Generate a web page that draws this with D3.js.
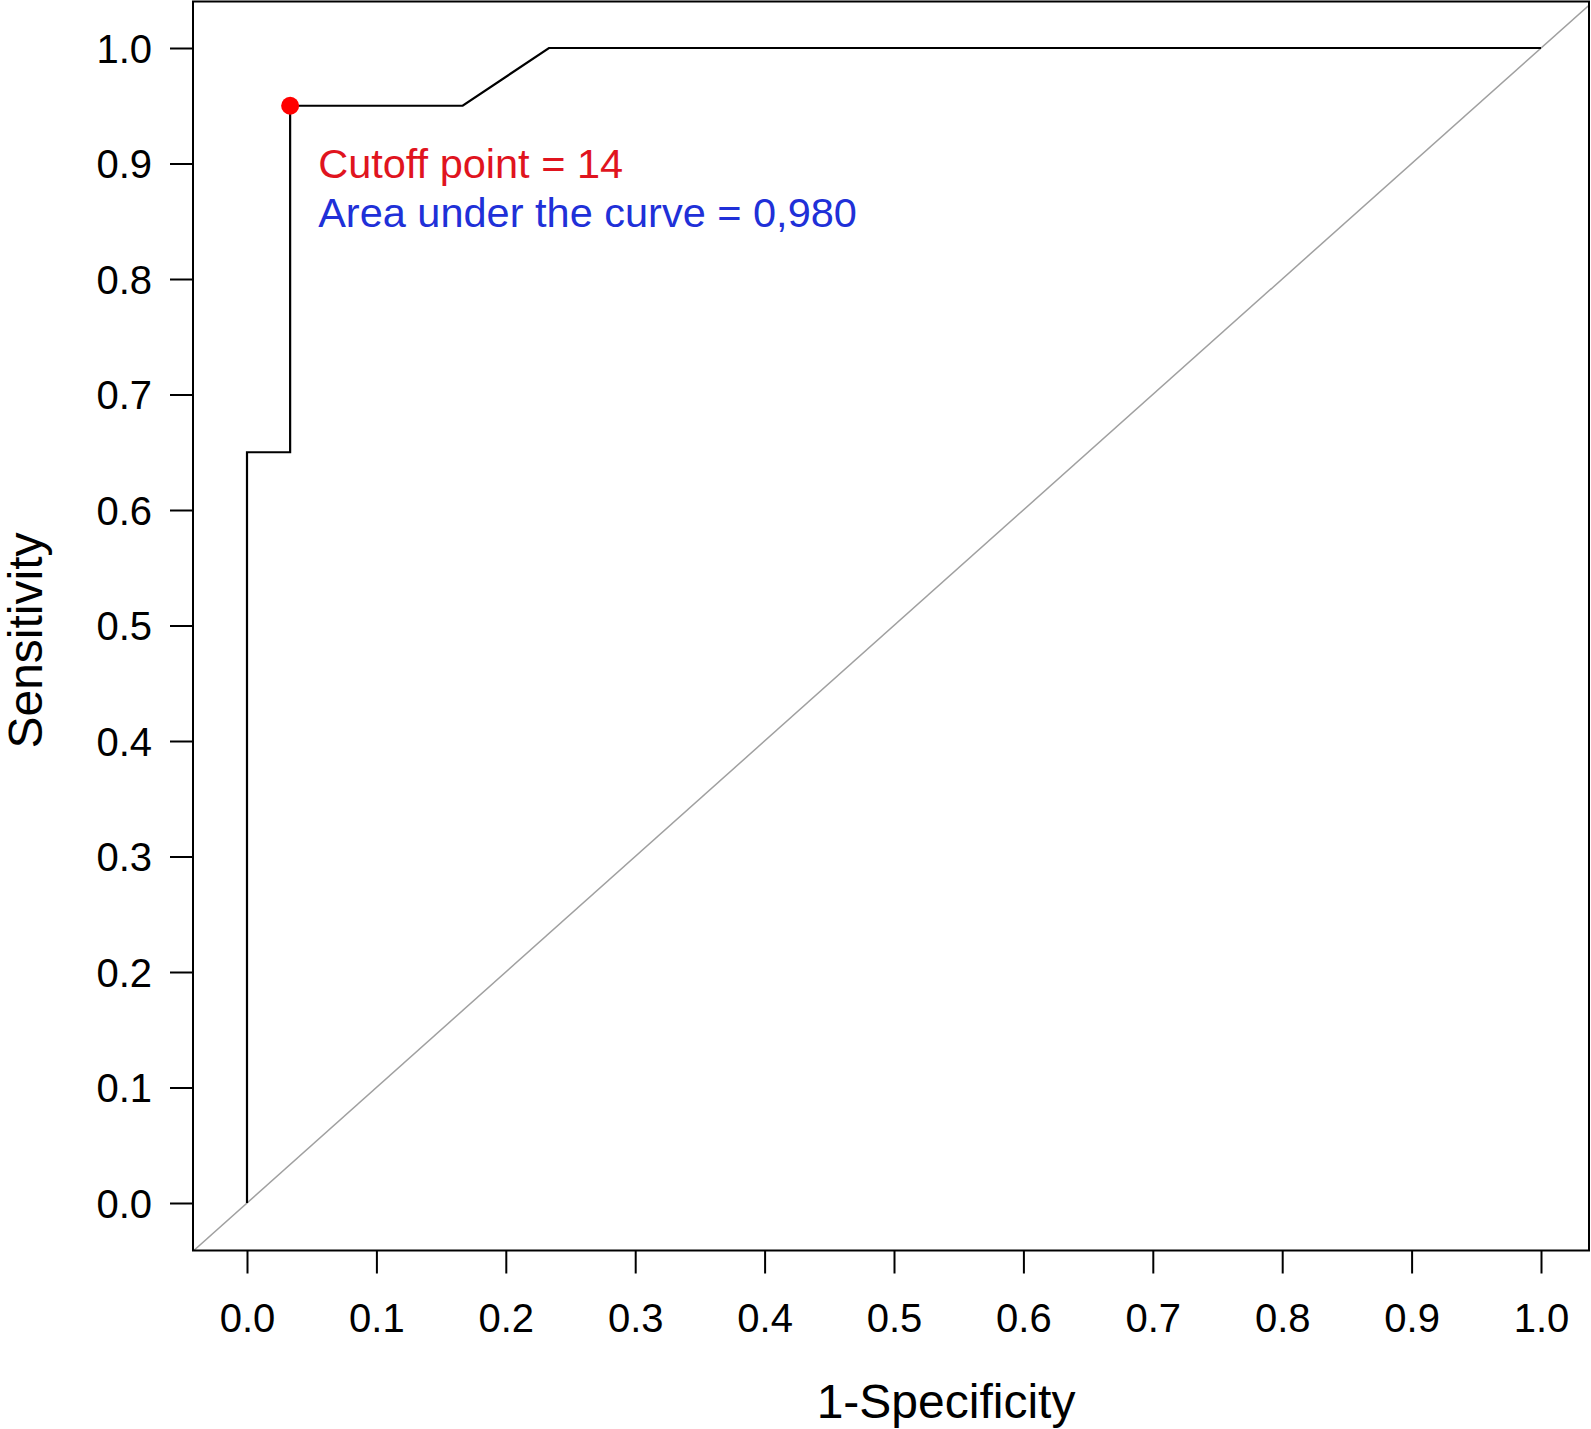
<!DOCTYPE html>
<html>
<head>
<meta charset="utf-8">
<script src="https://cdn.jsdelivr.net/npm/d3@7/dist/d3.min.js"></script>
<style>
  html, body { margin: 0; padding: 0; background: #fff; }
  svg { display: block; font-family: "Liberation Sans", Arial, Helvetica, sans-serif; }
</style>
</head>
<body>
<div id="chart"></div>
<script>
// ROC curve: 1-specificity (fpr) vs sensitivity (tpr)
const fpr = [0, 0, 1 / 30, 1 / 30, 5 / 30, 7 / 30, 1];
const tpr = [0, 0.65, 0.65, 0.95, 0.95, 1, 1];
const cutoff = { fpr: 1 / 30, tpr: 0.95 };
const xTicks = [0, 0.1, 0.2, 0.3, 0.4, 0.5, 0.6, 0.7, 0.8, 0.9, 1.0];
const yTicks = [0, 0.1, 0.2, 0.3, 0.4, 0.5, 0.6, 0.7, 0.8, 0.9, 1.0];
const notes = [
  { text: 'Cutoff point = 14', color: '#e0141e', x: 0.055, y: 0.9 },
  { text: 'Area under the curve = 0,980', color: '#2030d8', x: 0.055, y: 0.858 }
];

const width = 1591, height = 1429;
const box = { left: 193, right: 1589, top: 1.5, bottom: 1250.5 };

const x = d3.scaleLinear().domain([0, 1]).range([247, 1541]);
const y = d3.scaleLinear().domain([0, 1]).range([1203, 48]);

const svg = d3.select('#chart').append('svg')
  .attr('width', width)
  .attr('height', height)
  .attr('viewBox', `0 0 ${width} ${height}`);

svg.append('defs').append('clipPath').attr('id', 'plotClip')
  .append('rect')
  .attr('x', box.left).attr('y', box.top)
  .attr('width', box.right - box.left).attr('height', box.bottom - box.top);

const plot = svg.append('g').attr('clip-path', 'url(#plotClip)');

// chance line y = x
plot.append('line')
  .attr('x1', x(-0.1)).attr('y1', y(-0.1))
  .attr('x2', x(1.1)).attr('y2', y(1.1))
  .attr('stroke', '#a0a0a0')
  .attr('stroke-width', 1.5);

const line = d3.line()
  .x((d, i) => x(fpr[i]))
  .y((d, i) => y(tpr[i]));

plot.append('path')
  .datum(fpr)
  .attr('d', line)
  .attr('fill', 'none')
  .attr('stroke', '#000')
  .attr('stroke-width', 2.2);

plot.append('circle')
  .attr('cx', x(cutoff.fpr))
  .attr('cy', y(cutoff.tpr))
  .attr('r', 9)
  .attr('fill', '#ff0000');

svg.selectAll('text.note')
  .data(notes)
  .join('text')
  .attr('class', 'note')
  .attr('x', d => x(d.x))
  .attr('y', d => y(d.y))
  .attr('dy', '0.36em')
  .attr('font-size', '41.5px')
  .attr('fill', d => d.color)
  .text(d => d.text);

// frame
svg.append('rect')
  .attr('x', box.left).attr('y', box.top)
  .attr('width', box.right - box.left).attr('height', box.bottom - box.top)
  .attr('fill', 'none')
  .attr('stroke', '#000')
  .attr('stroke-width', 2);

// axes
const xAxis = svg.append('g')
  .attr('transform', `translate(0,${box.bottom})`)
  .call(d3.axisBottom(x).tickValues(xTicks).tickFormat(d3.format('.1f'))
    .tickSize(23).tickPadding(30));

const yAxis = svg.append('g')
  .attr('transform', `translate(${box.left},0)`)
  .call(d3.axisLeft(y).tickValues(yTicks).tickFormat(d3.format('.1f'))
    .tickSize(23).tickPadding(18));

[xAxis, yAxis].forEach(g => {
  g.select('.domain').remove();
  g.selectAll('.tick line').attr('stroke', '#000').attr('stroke-width', 2);
  g.selectAll('.tick text')
    .attr('font-size', '40px')
    .attr('font-family', '"Liberation Sans", Arial, Helvetica, sans-serif')
    .attr('fill', '#000');
});
yAxis.selectAll('.tick text').attr('dy', '0.36em');

svg.append('text')
  .attr('x', 946)
  .attr('y', 1418)
  .attr('text-anchor', 'middle')
  .attr('font-size', '48px')
  .text('1-Specificity');

svg.append('text')
  .attr('transform', `translate(42,${(y(0) + y(1)) / 2 + 15}) rotate(-90)`)
  .attr('text-anchor', 'middle')
  .attr('font-size', '48px')
  .text('Sensitivity');
</script>
</body>
</html>
